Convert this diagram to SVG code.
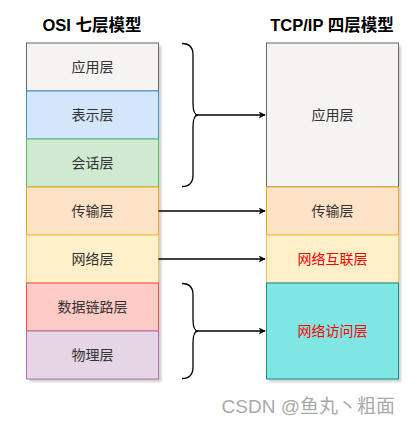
<svg xmlns="http://www.w3.org/2000/svg" width="411" height="425" viewBox="0 0 411 425">
<style>
.t{font-family:"Liberation Sans","Noto Sans CJK SC",sans-serif;font-size:14px;text-anchor:middle;dominant-baseline:central;fill:#333}
.r{fill:#ff0000}
.h{font-family:"Liberation Sans","Noto Sans CJK SC",sans-serif;font-size:16.5px;font-weight:bold;text-anchor:middle;fill:#000}
.e{fill:none;stroke:#000;stroke-width:1.3}
.sh{fill:#000;opacity:0.18}
</style>
<defs>
<marker id="a" viewBox="0 0 10 10" refX="9" refY="5" markerWidth="7" markerHeight="7" orient="auto" markerUnits="userSpaceOnUse">
<path d="M0,0 L10,5 L0,10 L2.5,5 Z" fill="#000"/>
</marker>
<filter id="b" x="-10%" y="-10%" width="120%" height="120%"><feGaussianBlur stdDeviation="1.2"/></filter>
</defs>
<text class="h" x="92" y="31">OSI 七层模型</text>
<text class="h" x="332" y="31">TCP/IP 四层模型</text>
<rect class="sh" x="29.5" y="46" width="132" height="336" filter="url(#b)"/>
<rect class="sh" x="269" y="46" width="132" height="336" filter="url(#b)"/>
<g id="osi-app"><rect x="26.5" y="43" width="132" height="48" fill="#f5f4f2" stroke="#666666"/><text class="t" x="92.5" y="67">应用层</text></g>
<g id="osi-pres"><rect x="26.5" y="91" width="132" height="48" fill="#d4e6fb" stroke="#3d8fd6"/><text class="t" x="92.5" y="115">表示层</text></g>
<g id="osi-sess"><rect x="26.5" y="139" width="132" height="48" fill="#d0ead2" stroke="#5ebd5e"/><text class="t" x="92.5" y="163">会话层</text></g>
<g id="osi-trans"><rect x="26.5" y="187" width="132" height="48" fill="#fee3c7" stroke="#f7a21b"/><text class="t" x="92.5" y="211">传输层</text></g>
<g id="osi-net"><rect x="26.5" y="235" width="132" height="48" fill="#fff0c9" stroke="#f5bf5a"/><text class="t" x="92.5" y="259">网络层</text></g>
<g id="osi-link"><rect x="26.5" y="283" width="132" height="48" fill="#ffcbc7" stroke="#ef4c46"/><text class="t" x="92.5" y="307">数据链路层</text></g>
<g id="osi-phys"><rect x="26.5" y="331" width="132" height="48" fill="#e6d5e5" stroke="#b06fb0"/><text class="t" x="92.5" y="355">物理层</text></g>
<g id="tcp-app"><rect x="266.5" y="43" width="132" height="144" fill="#f5f4f2" stroke="#666666"/><text class="t" x="332.5" y="115">应用层</text></g>
<g id="tcp-trans"><rect x="266.5" y="187" width="132" height="48" fill="#fee3c7" stroke="#f7a21b"/><text class="t" x="332.5" y="211">传输层</text></g>
<g id="tcp-net"><rect x="266.5" y="235" width="132" height="48" fill="#fff0c9" stroke="#f5bf5a"/><text class="t r" x="332.5" y="259">网络互联层</text></g>
<g id="tcp-access"><rect x="266.5" y="283" width="132" height="96" fill="#80e6e3" stroke="#10908a"/><text class="t r" x="332.5" y="331">网络访问层</text></g>
<g id="connectors">
<path class="e" d="M182,43.5 Q193,43.5 193,55 L193,103 Q193,115 198,115 Q193,115 193,127 L193,175 Q193,186.5 182,186.5"/>
<path class="e" d="M182,283.5 Q193,283.5 193,295 L193,319 Q193,331 198,331 Q193,331 193,343 L193,367 Q193,378.5 182,378.5"/>
<line class="e" x1="198" y1="115" x2="265" y2="115" marker-end="url(#a)"/>
<line class="e" x1="198" y1="331" x2="265" y2="331" marker-end="url(#a)"/>
<line class="e" x1="158.5" y1="211" x2="265" y2="211" marker-end="url(#a)"/>
<line class="e" x1="158.5" y1="259" x2="265" y2="259" marker-end="url(#a)"/>
</g>
<text x="395" y="413" font-family="Liberation Sans,'Noto Sans CJK SC',sans-serif" font-size="19" fill="#aaaaaa" text-anchor="end">CSDN @鱼丸丶粗面</text>
</svg>
